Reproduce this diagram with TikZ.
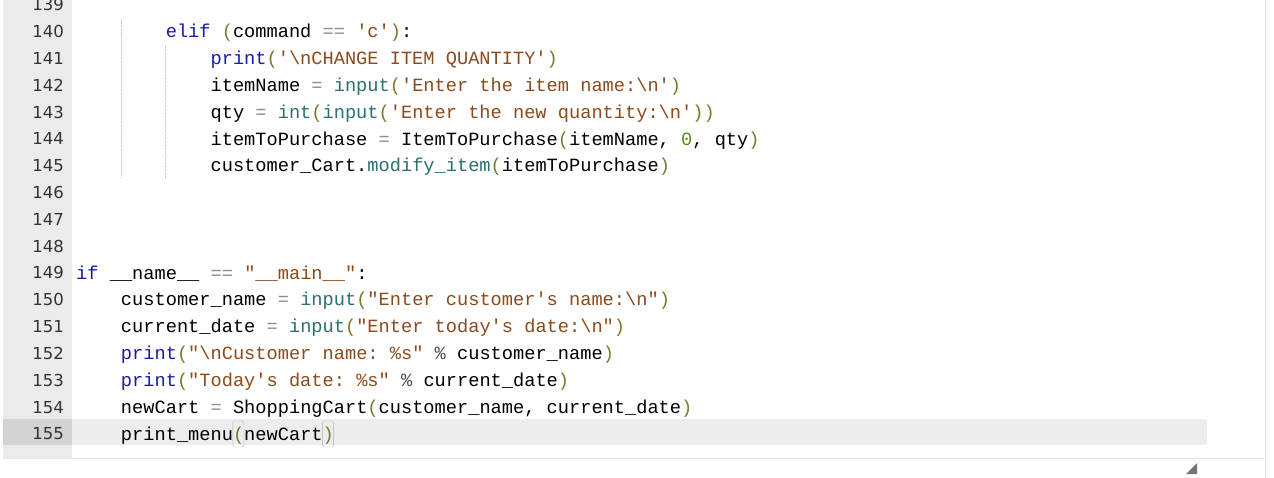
\documentclass[tikz,border=0pt]{standalone}
\usepackage{fontspec}
\setmonofont{Liberation Mono}
\setsansfont{DejaVu Sans}
\definecolor{kw}{HTML}{1A1AA6}
\definecolor{str}{HTML}{8B4A1C}
\definecolor{bi}{HTML}{2A7070}
\definecolor{par}{HTML}{7A7A2A}
\definecolor{op}{HTML}{8A8A99}
\definecolor{num}{HTML}{5A8A1A}
\definecolor{gut}{HTML}{EBEBEB}
\definecolor{hl}{HTML}{EDEDED}
\newcommand{\K}[1]{\textcolor{kw}{#1}}
\newcommand{\Ss}[1]{\textcolor{str}{#1}}
\newcommand{\B}[1]{\textcolor{bi}{#1}}
\newcommand{\Pp}[1]{\textcolor{par}{#1}}
\newcommand{\Op}[1]{\textcolor{op}{#1}}
\newcommand{\bs}{\textbackslash}
\begin{document}
\begin{tikzpicture}[x=1bp,y=-1bp,
  code/.style={anchor=base west,inner sep=0,font=\fontsize{18.67bp}{20bp}\ttfamily},
  num/.style={anchor=base east,inner sep=0,font=\fontsize{16.5bp}{18bp}\sffamily,text=black!80}]
\useasboundingbox (0,0) rectangle (1274,478);
\fill[white] (0,0) rectangle (1274,478);
\fill[gut] (3,0) rectangle (72,458);
\fill[hl] (72,419) rectangle (1207,445);
\fill[gut!90!black] (3,419) rectangle (72,445);
\draw[black!10] (1265.5,0) -- (1265.5,478);
\draw[black!10] (3,458.5) -- (1265,458.5);
\draw[black!20,densely dotted] (121.5,19) -- (121.5,178);
\draw[black!20,densely dotted] (165.5,46) -- (165.5,178);
\fill[black!55] (1186,474) -- (1197,463) -- (1197,474) -- cycle;
% line numbers
\foreach \n [count=\i from 0] in {139,...,155}
  \node[num] (ln\n) at (64,{11+\i*26.8}) {\n};
\newcommand{\col}[1]{76+11.2*#1}
\node[code] (c140) at ({\col{8}},38) {\K{elif} \Pp{(}command \Op{==} \Ss{'c'}\Pp{)}:};
\node[code] (c141) at ({\col{12}},64.8) {\K{print}\Pp{(}\Ss{'\bs nCHANGE ITEM QUANTITY'}\Pp{)}};
\node[code] (c142) at ({\col{12}},91.6) {itemName \Op{=} \B{input}\Pp{(}\Ss{'Enter the item name:\bs n'}\Pp{)}};
\node[code] (c143) at ({\col{12}},118.4) {qty \Op{=} \B{int}\Pp{(}\B{input}\Pp{(}\Ss{'Enter the new quantity:\bs n'}\Pp{))}};
\node[code] (c144) at ({\col{12}},145.2) {itemToPurchase \Op{=} ItemToPurchase\Pp{(}itemName, \textcolor{num}{0}, qty\Pp{)}};
\node[code] (c145) at ({\col{12}},172) {customer\_Cart.\B{modify\_item}\Pp{(}itemToPurchase\Pp{)}};
\node[code] (c149) at ({\col{0}},279.2) {\K{if} \_\_name\_\_ \Op{==} \Ss{"\_\_main\_\_"}:};
\node[code] (c150) at ({\col{4}},306) {customer\_name \Op{=} \B{input}\Pp{(}\Ss{"Enter customer's name:\bs n"}\Pp{)}};
\node[code] (c151) at ({\col{4}},332.8) {current\_date \Op{=} \B{input}\Pp{(}\Ss{"Enter today's date:\bs n"}\Pp{)}};
\node[code] (c152) at ({\col{4}},359.6) {\K{print}\Pp{(}\Ss{"\bs nCustomer name: \%s"} \textcolor{black!70}{\%} customer\_name\Pp{)}};
\node[code] (c153) at ({\col{4}},386.4) {\K{print}\Pp{(}\Ss{"Today's date: \%s"} \textcolor{black!70}{\%} current\_date\Pp{)}};
\node[code] (c154) at ({\col{4}},413.2) {newCart \Op{=} ShoppingCart\Pp{(}customer\_name, current\_date\Pp{)}};
\node[code] (c155) at ({\col{4}},440) {print\_menu\Pp{(}newCart\Pp{)}};
\draw[black!30,rounded corners=1.5] ({\col{14}},421) rectangle ({\col{15}},447);
\draw[black!30,rounded corners=1.5] ({\col{22}},421) rectangle ({\col{23}},447);
\end{tikzpicture}
\end{document}
